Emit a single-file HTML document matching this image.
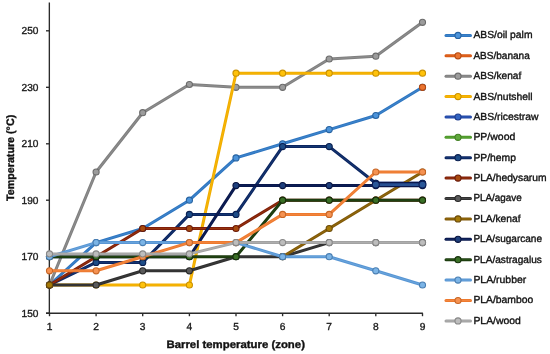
<!DOCTYPE html>
<html><head><meta charset="utf-8"><title>Barrel temperature chart</title>
<style>html,body{margin:0;padding:0;background:#fff}body{width:550px;height:354px;overflow:hidden}svg{display:block}</style></head>
<body>
<svg width="550" height="354" viewBox="0 0 550 354" text-rendering="geometricPrecision">
<rect width="550" height="354" fill="#fff"/>
<g stroke="#2b2b2b" stroke-width="1.35" fill="none">
<path d="M49.35 2.6V313.8"/>
<path d="M46 313.2H422.9"/>
<path d="M46 313.2H49.4"/>
<path d="M46 256.7H49.4"/>
<path d="M46 200.2H49.4"/>
<path d="M46 143.8H49.4"/>
<path d="M46 87.3H49.4"/>
<path d="M46 30.8H49.4"/>
<path d="M49.5 313.2V316.2"/>
<path d="M96.1 313.2V316.2"/>
<path d="M142.7 313.2V316.2"/>
<path d="M189.4 313.2V316.2"/>
<path d="M236.0 313.2V316.2"/>
<path d="M282.6 313.2V316.2"/>
<path d="M329.2 313.2V316.2"/>
<path d="M375.8 313.2V316.2"/>
<path d="M422.5 313.2V316.2"/>
</g>
<g stroke="#2f76c0" fill="#4b93da">
<path d="M49.5 285.0L96.1 242.6L142.7 228.5L189.4 200.2L236.0 157.9L282.6 143.8L329.2 129.6L375.8 115.5L422.5 87.3" fill="none" stroke-width="3.0" stroke-linejoin="round" stroke-linecap="round"/>
<path d="M49.5 285.0L96.1 242.6L142.7 228.5L189.4 200.2L236.0 157.9L282.6 143.8L329.2 129.6L375.8 115.5L422.5 87.3" fill="none" stroke="#4b93da" stroke-opacity="0.5" stroke-width="1.0" stroke-linejoin="round" stroke-linecap="round"/>
<circle cx="49.5" cy="285.0" r="3.05" stroke="#2763a1" stroke-width="1.1"/>
<circle cx="96.1" cy="242.6" r="3.05" stroke="#2763a1" stroke-width="1.1"/>
<circle cx="142.7" cy="228.5" r="3.05" stroke="#2763a1" stroke-width="1.1"/>
<circle cx="189.4" cy="200.2" r="3.05" stroke="#2763a1" stroke-width="1.1"/>
<circle cx="236.0" cy="157.9" r="3.05" stroke="#2763a1" stroke-width="1.1"/>
<circle cx="282.6" cy="143.8" r="3.05" stroke="#2763a1" stroke-width="1.1"/>
<circle cx="329.2" cy="129.6" r="3.05" stroke="#2763a1" stroke-width="1.1"/>
<circle cx="375.8" cy="115.5" r="3.05" stroke="#2763a1" stroke-width="1.1"/>
<circle cx="422.5" cy="87.3" r="3.05" stroke="#2763a1" stroke-width="1.1"/>
</g>
<g stroke="#d85712" fill="#ea7430">
<path d="M422.5 87.3" fill="none" stroke-width="3.0" stroke-linejoin="round" stroke-linecap="round"/>
<path d="M422.5 87.3" fill="none" stroke="#ea7430" stroke-opacity="0.5" stroke-width="1.0" stroke-linejoin="round" stroke-linecap="round"/>
<circle cx="422.5" cy="87.3" r="3.05" stroke="#b5490f" stroke-width="1.1"/>
</g>
<g stroke="#808080" fill="#9c9c9c">
<path d="M49.5 285.0L96.1 172.0L142.7 112.7L189.4 84.5L236.0 87.3L282.6 87.3L329.2 59.0L375.8 56.2L422.5 22.3" fill="none" stroke-width="3.0" stroke-linejoin="round" stroke-linecap="round"/>
<path d="M49.5 285.0L96.1 172.0L142.7 112.7L189.4 84.5L236.0 87.3L282.6 87.3L329.2 59.0L375.8 56.2L422.5 22.3" fill="none" stroke="#9c9c9c" stroke-opacity="0.5" stroke-width="1.0" stroke-linejoin="round" stroke-linecap="round"/>
<circle cx="49.5" cy="285.0" r="3.05" stroke="#6b6b6b" stroke-width="1.1"/>
<circle cx="96.1" cy="172.0" r="3.05" stroke="#6b6b6b" stroke-width="1.1"/>
<circle cx="142.7" cy="112.7" r="3.05" stroke="#6b6b6b" stroke-width="1.1"/>
<circle cx="189.4" cy="84.5" r="3.05" stroke="#6b6b6b" stroke-width="1.1"/>
<circle cx="236.0" cy="87.3" r="3.05" stroke="#6b6b6b" stroke-width="1.1"/>
<circle cx="282.6" cy="87.3" r="3.05" stroke="#6b6b6b" stroke-width="1.1"/>
<circle cx="329.2" cy="59.0" r="3.05" stroke="#6b6b6b" stroke-width="1.1"/>
<circle cx="375.8" cy="56.2" r="3.05" stroke="#6b6b6b" stroke-width="1.1"/>
<circle cx="422.5" cy="22.3" r="3.05" stroke="#6b6b6b" stroke-width="1.1"/>
</g>
<g stroke="#f0ac00" fill="#ffc20a">
<path d="M49.5 285.0L96.1 285.0L142.7 285.0L189.4 285.0L236.0 73.2L282.6 73.2L329.2 73.2L375.8 73.2L422.5 73.2" fill="none" stroke-width="3.0" stroke-linejoin="round" stroke-linecap="round"/>
<path d="M49.5 285.0L96.1 285.0L142.7 285.0L189.4 285.0L236.0 73.2L282.6 73.2L329.2 73.2L375.8 73.2L422.5 73.2" fill="none" stroke="#ffc20a" stroke-opacity="0.5" stroke-width="1.0" stroke-linejoin="round" stroke-linecap="round"/>
<circle cx="49.5" cy="285.0" r="3.05" stroke="#c99000" stroke-width="1.1"/>
<circle cx="96.1" cy="285.0" r="3.05" stroke="#c99000" stroke-width="1.1"/>
<circle cx="142.7" cy="285.0" r="3.05" stroke="#c99000" stroke-width="1.1"/>
<circle cx="189.4" cy="285.0" r="3.05" stroke="#c99000" stroke-width="1.1"/>
<circle cx="236.0" cy="73.2" r="3.05" stroke="#c99000" stroke-width="1.1"/>
<circle cx="282.6" cy="73.2" r="3.05" stroke="#c99000" stroke-width="1.1"/>
<circle cx="329.2" cy="73.2" r="3.05" stroke="#c99000" stroke-width="1.1"/>
<circle cx="375.8" cy="73.2" r="3.05" stroke="#c99000" stroke-width="1.1"/>
<circle cx="422.5" cy="73.2" r="3.05" stroke="#c99000" stroke-width="1.1"/>
</g>
<g stroke="#2448a8" fill="#3264c2">
<path d="M375.8 183.3L422.5 183.3" fill="none" stroke-width="3.0" stroke-linejoin="round" stroke-linecap="round"/>
<path d="M375.8 183.3L422.5 183.3" fill="none" stroke="#3264c2" stroke-opacity="0.5" stroke-width="1.0" stroke-linejoin="round" stroke-linecap="round"/>
<circle cx="375.8" cy="183.3" r="3.05" stroke="#1e3c8d" stroke-width="1.1"/>
<circle cx="422.5" cy="183.3" r="3.05" stroke="#1e3c8d" stroke-width="1.1"/>
</g>
<g stroke="#4f9a2a" fill="#60a93c">
</g>
<g stroke="#0c2560" fill="#1d4c87">
<path d="M49.5 285.0L96.1 262.4L142.7 262.4L189.4 214.4L236.0 214.4L282.6 146.6L329.2 146.6L375.8 183.3L422.5 183.3" fill="none" stroke-width="3.0" stroke-linejoin="round" stroke-linecap="round"/>
<path d="M49.5 285.0L96.1 262.4L142.7 262.4L189.4 214.4L236.0 214.4L282.6 146.6L329.2 146.6L375.8 183.3L422.5 183.3" fill="none" stroke="#1d4c87" stroke-opacity="0.5" stroke-width="1.0" stroke-linejoin="round" stroke-linecap="round"/>
<circle cx="49.5" cy="285.0" r="3.05" stroke="#0a1f50" stroke-width="1.1"/>
<circle cx="96.1" cy="262.4" r="3.05" stroke="#0a1f50" stroke-width="1.1"/>
<circle cx="142.7" cy="262.4" r="3.05" stroke="#0a1f50" stroke-width="1.1"/>
<circle cx="189.4" cy="214.4" r="3.05" stroke="#0a1f50" stroke-width="1.1"/>
<circle cx="236.0" cy="214.4" r="3.05" stroke="#0a1f50" stroke-width="1.1"/>
<circle cx="282.6" cy="146.6" r="3.05" stroke="#0a1f50" stroke-width="1.1"/>
<circle cx="329.2" cy="146.6" r="3.05" stroke="#0a1f50" stroke-width="1.1"/>
<circle cx="375.8" cy="183.3" r="3.05" stroke="#0a1f50" stroke-width="1.1"/>
<circle cx="422.5" cy="183.3" r="3.05" stroke="#0a1f50" stroke-width="1.1"/>
</g>
<g stroke="#801e0a" fill="#a84a0e">
<path d="M49.5 285.0L96.1 256.7L142.7 228.5L189.4 228.5L236.0 228.5L282.6 200.2L329.2 200.2L375.8 200.2L422.5 200.2" fill="none" stroke-width="3.0" stroke-linejoin="round" stroke-linecap="round"/>
<path d="M49.5 285.0L96.1 256.7L142.7 228.5L189.4 228.5L236.0 228.5L282.6 200.2L329.2 200.2L375.8 200.2L422.5 200.2" fill="none" stroke="#a84a0e" stroke-opacity="0.5" stroke-width="1.0" stroke-linejoin="round" stroke-linecap="round"/>
<circle cx="49.5" cy="285.0" r="3.05" stroke="#6b1908" stroke-width="1.1"/>
<circle cx="96.1" cy="256.7" r="3.05" stroke="#6b1908" stroke-width="1.1"/>
<circle cx="142.7" cy="228.5" r="3.05" stroke="#6b1908" stroke-width="1.1"/>
<circle cx="189.4" cy="228.5" r="3.05" stroke="#6b1908" stroke-width="1.1"/>
<circle cx="236.0" cy="228.5" r="3.05" stroke="#6b1908" stroke-width="1.1"/>
<circle cx="282.6" cy="200.2" r="3.05" stroke="#6b1908" stroke-width="1.1"/>
<circle cx="329.2" cy="200.2" r="3.05" stroke="#6b1908" stroke-width="1.1"/>
<circle cx="375.8" cy="200.2" r="3.05" stroke="#6b1908" stroke-width="1.1"/>
<circle cx="422.5" cy="200.2" r="3.05" stroke="#6b1908" stroke-width="1.1"/>
</g>
<g stroke="#303030" fill="#5a5a5a">
<path d="M49.5 285.0L96.1 285.0L142.7 270.8L189.4 270.8L236.0 256.7L282.6 256.7L329.2 242.6L375.8 242.6L422.5 242.6" fill="none" stroke-width="3.0" stroke-linejoin="round" stroke-linecap="round"/>
<path d="M49.5 285.0L96.1 285.0L142.7 270.8L189.4 270.8L236.0 256.7L282.6 256.7L329.2 242.6L375.8 242.6L422.5 242.6" fill="none" stroke="#5a5a5a" stroke-opacity="0.2" stroke-width="1.0" stroke-linejoin="round" stroke-linecap="round"/>
<circle cx="49.5" cy="285.0" r="3.05" stroke="#282828" stroke-width="1.1"/>
<circle cx="96.1" cy="285.0" r="3.05" stroke="#282828" stroke-width="1.1"/>
<circle cx="142.7" cy="270.8" r="3.05" stroke="#282828" stroke-width="1.1"/>
<circle cx="189.4" cy="270.8" r="3.05" stroke="#282828" stroke-width="1.1"/>
<circle cx="236.0" cy="256.7" r="3.05" stroke="#282828" stroke-width="1.1"/>
<circle cx="282.6" cy="256.7" r="3.05" stroke="#282828" stroke-width="1.1"/>
<circle cx="329.2" cy="242.6" r="3.05" stroke="#282828" stroke-width="1.1"/>
<circle cx="375.8" cy="242.6" r="3.05" stroke="#282828" stroke-width="1.1"/>
<circle cx="422.5" cy="242.6" r="3.05" stroke="#282828" stroke-width="1.1"/>
</g>
<g stroke="#80590a" fill="#a67a08">
<path d="M49.5 285.0M282.6 256.7L329.2 228.5L375.8 200.2L422.5 172.0" fill="none" stroke-width="3.0" stroke-linejoin="round" stroke-linecap="round"/>
<path d="M49.5 285.0M282.6 256.7L329.2 228.5L375.8 200.2L422.5 172.0" fill="none" stroke="#a67a08" stroke-opacity="0.5" stroke-width="1.0" stroke-linejoin="round" stroke-linecap="round"/>
<circle cx="49.5" cy="285.0" r="3.05" stroke="#6b4a08" stroke-width="1.1"/>
<circle cx="282.6" cy="256.7" r="3.05" stroke="#6b4a08" stroke-width="1.1"/>
<circle cx="329.2" cy="228.5" r="3.05" stroke="#6b4a08" stroke-width="1.1"/>
<circle cx="375.8" cy="200.2" r="3.05" stroke="#6b4a08" stroke-width="1.1"/>
<circle cx="422.5" cy="172.0" r="3.05" stroke="#6b4a08" stroke-width="1.1"/>
</g>
<g stroke="#09174c" fill="#1e3f7c">
<path d="M49.5 256.7L96.1 256.7L142.7 256.7L189.4 256.7L236.0 185.6L282.6 185.6L329.2 185.6L375.8 185.6L422.5 185.6" fill="none" stroke-width="3.0" stroke-linejoin="round" stroke-linecap="round"/>
<path d="M49.5 256.7L96.1 256.7L142.7 256.7L189.4 256.7L236.0 185.6L282.6 185.6L329.2 185.6L375.8 185.6L422.5 185.6" fill="none" stroke="#1e3f7c" stroke-opacity="0.2" stroke-width="1.0" stroke-linejoin="round" stroke-linecap="round"/>
<circle cx="49.5" cy="256.7" r="3.05" stroke="#07133f" stroke-width="1.1"/>
<circle cx="96.1" cy="256.7" r="3.05" stroke="#07133f" stroke-width="1.1"/>
<circle cx="142.7" cy="256.7" r="3.05" stroke="#07133f" stroke-width="1.1"/>
<circle cx="189.4" cy="256.7" r="3.05" stroke="#07133f" stroke-width="1.1"/>
<circle cx="236.0" cy="185.6" r="3.05" stroke="#07133f" stroke-width="1.1"/>
<circle cx="282.6" cy="185.6" r="3.05" stroke="#07133f" stroke-width="1.1"/>
<circle cx="329.2" cy="185.6" r="3.05" stroke="#07133f" stroke-width="1.1"/>
<circle cx="375.8" cy="185.6" r="3.05" stroke="#07133f" stroke-width="1.1"/>
<circle cx="422.5" cy="185.6" r="3.05" stroke="#07133f" stroke-width="1.1"/>
</g>
<path d="M375.8 184.6H422.5" stroke="#09174c" stroke-width="5.3" stroke-linecap="round"/>
<path d="M375.8 184.6H422.5" stroke="#264f92" stroke-width="2.6" stroke-linecap="round"/>
<circle cx="375.8" cy="184.6" r="3.5" fill="#2a5798" stroke="#0b1c54" stroke-width="1.1"/>
<circle cx="422.5" cy="184.6" r="3.5" fill="#2a5798" stroke="#0b1c54" stroke-width="1.1"/>
<g stroke="#1b3a0e" fill="#3a6f26">
<path d="M49.5 256.7L96.1 256.7L142.7 256.7L189.4 256.7L236.0 256.7L282.6 200.2L329.2 200.2L375.8 200.2L422.5 200.2" fill="none" stroke-width="3.0" stroke-linejoin="round" stroke-linecap="round"/>
<path d="M49.5 256.7L96.1 256.7L142.7 256.7L189.4 256.7L236.0 256.7L282.6 200.2L329.2 200.2L375.8 200.2L422.5 200.2" fill="none" stroke="#3a6f26" stroke-opacity="0.2" stroke-width="1.0" stroke-linejoin="round" stroke-linecap="round"/>
<circle cx="49.5" cy="256.7" r="3.05" stroke="#16300b" stroke-width="1.1"/>
<circle cx="96.1" cy="256.7" r="3.05" stroke="#16300b" stroke-width="1.1"/>
<circle cx="142.7" cy="256.7" r="3.05" stroke="#16300b" stroke-width="1.1"/>
<circle cx="189.4" cy="256.7" r="3.05" stroke="#16300b" stroke-width="1.1"/>
<circle cx="236.0" cy="256.7" r="3.05" stroke="#16300b" stroke-width="1.1"/>
<circle cx="282.6" cy="200.2" r="3.05" stroke="#16300b" stroke-width="1.1"/>
<circle cx="329.2" cy="200.2" r="3.05" stroke="#16300b" stroke-width="1.1"/>
<circle cx="375.8" cy="200.2" r="3.05" stroke="#16300b" stroke-width="1.1"/>
<circle cx="422.5" cy="200.2" r="3.05" stroke="#16300b" stroke-width="1.1"/>
</g>
<g stroke="#5896d4" fill="#7bb4e6">
<path d="M49.5 256.7L96.1 242.6L142.7 242.6L189.4 242.6L236.0 242.6L282.6 256.7L329.2 256.7L375.8 270.8L422.5 285.0" fill="none" stroke-width="3.0" stroke-linejoin="round" stroke-linecap="round"/>
<path d="M49.5 256.7L96.1 242.6L142.7 242.6L189.4 242.6L236.0 242.6L282.6 256.7L329.2 256.7L375.8 270.8L422.5 285.0" fill="none" stroke="#7bb4e6" stroke-opacity="0.5" stroke-width="1.0" stroke-linejoin="round" stroke-linecap="round"/>
<circle cx="49.5" cy="256.7" r="3.05" stroke="#497eb2" stroke-width="1.1"/>
<circle cx="96.1" cy="242.6" r="3.05" stroke="#497eb2" stroke-width="1.1"/>
<circle cx="142.7" cy="242.6" r="3.05" stroke="#497eb2" stroke-width="1.1"/>
<circle cx="189.4" cy="242.6" r="3.05" stroke="#497eb2" stroke-width="1.1"/>
<circle cx="236.0" cy="242.6" r="3.05" stroke="#497eb2" stroke-width="1.1"/>
<circle cx="282.6" cy="256.7" r="3.05" stroke="#497eb2" stroke-width="1.1"/>
<circle cx="329.2" cy="256.7" r="3.05" stroke="#497eb2" stroke-width="1.1"/>
<circle cx="375.8" cy="270.8" r="3.05" stroke="#497eb2" stroke-width="1.1"/>
<circle cx="422.5" cy="285.0" r="3.05" stroke="#497eb2" stroke-width="1.1"/>
</g>
<g stroke="#ee7a2e" fill="#f59252">
<path d="M49.5 270.8L96.1 270.8L142.7 256.7L189.4 242.6L236.0 242.6L282.6 214.4L329.2 214.4L375.8 172.0L422.5 172.0" fill="none" stroke-width="3.0" stroke-linejoin="round" stroke-linecap="round"/>
<path d="M49.5 270.8L96.1 270.8L142.7 256.7L189.4 242.6L236.0 242.6L282.6 214.4L329.2 214.4L375.8 172.0L422.5 172.0" fill="none" stroke="#f59252" stroke-opacity="0.5" stroke-width="1.0" stroke-linejoin="round" stroke-linecap="round"/>
<circle cx="49.5" cy="270.8" r="3.05" stroke="#c76626" stroke-width="1.1"/>
<circle cx="96.1" cy="270.8" r="3.05" stroke="#c76626" stroke-width="1.1"/>
<circle cx="142.7" cy="256.7" r="3.05" stroke="#c76626" stroke-width="1.1"/>
<circle cx="189.4" cy="242.6" r="3.05" stroke="#c76626" stroke-width="1.1"/>
<circle cx="236.0" cy="242.6" r="3.05" stroke="#c76626" stroke-width="1.1"/>
<circle cx="282.6" cy="214.4" r="3.05" stroke="#c76626" stroke-width="1.1"/>
<circle cx="329.2" cy="214.4" r="3.05" stroke="#c76626" stroke-width="1.1"/>
<circle cx="375.8" cy="172.0" r="3.05" stroke="#c76626" stroke-width="1.1"/>
<circle cx="422.5" cy="172.0" r="3.05" stroke="#c76626" stroke-width="1.1"/>
</g>
<g stroke="#a2a2a2" fill="#bdbdbd">
<path d="M49.5 253.9L96.1 253.9L142.7 253.9L189.4 253.9L236.0 242.6L282.6 242.6L329.2 242.6L375.8 242.6L422.5 242.6" fill="none" stroke-width="3.0" stroke-linejoin="round" stroke-linecap="round"/>
<path d="M49.5 253.9L96.1 253.9L142.7 253.9L189.4 253.9L236.0 242.6L282.6 242.6L329.2 242.6L375.8 242.6L422.5 242.6" fill="none" stroke="#bdbdbd" stroke-opacity="0.5" stroke-width="1.0" stroke-linejoin="round" stroke-linecap="round"/>
<circle cx="49.5" cy="253.9" r="3.05" stroke="#888888" stroke-width="1.1"/>
<circle cx="96.1" cy="253.9" r="3.05" stroke="#888888" stroke-width="1.1"/>
<circle cx="142.7" cy="253.9" r="3.05" stroke="#888888" stroke-width="1.1"/>
<circle cx="189.4" cy="253.9" r="3.05" stroke="#888888" stroke-width="1.1"/>
<circle cx="236.0" cy="242.6" r="3.05" stroke="#888888" stroke-width="1.1"/>
<circle cx="282.6" cy="242.6" r="3.05" stroke="#888888" stroke-width="1.1"/>
<circle cx="329.2" cy="242.6" r="3.05" stroke="#888888" stroke-width="1.1"/>
<circle cx="375.8" cy="242.6" r="3.05" stroke="#888888" stroke-width="1.1"/>
<circle cx="422.5" cy="242.6" r="3.05" stroke="#888888" stroke-width="1.1"/>
</g>
<g font-family="'Liberation Sans', sans-serif" font-size="10.2" fill="#1a1a1a" stroke="#1a1a1a" stroke-width="0.35">
<text x="38.5" y="316.8" text-anchor="end" textLength="16.9" lengthAdjust="spacingAndGlyphs">150</text>
<text x="38.5" y="260.3" text-anchor="end" textLength="16.9" lengthAdjust="spacingAndGlyphs">170</text>
<text x="38.5" y="203.8" text-anchor="end" textLength="16.9" lengthAdjust="spacingAndGlyphs">190</text>
<text x="38.5" y="147.4" text-anchor="end" textLength="16.9" lengthAdjust="spacingAndGlyphs">210</text>
<text x="38.5" y="90.9" text-anchor="end" textLength="16.9" lengthAdjust="spacingAndGlyphs">230</text>
<text x="38.5" y="34.4" text-anchor="end" textLength="16.9" lengthAdjust="spacingAndGlyphs">250</text>
<text x="49.5" y="329.9" text-anchor="middle">1</text>
<text x="96.1" y="329.9" text-anchor="middle">2</text>
<text x="142.7" y="329.9" text-anchor="middle">3</text>
<text x="189.4" y="329.9" text-anchor="middle">4</text>
<text x="236.0" y="329.9" text-anchor="middle">5</text>
<text x="282.6" y="329.9" text-anchor="middle">6</text>
<text x="329.2" y="329.9" text-anchor="middle">7</text>
<text x="375.8" y="329.9" text-anchor="middle">8</text>
<text x="422.5" y="329.9" text-anchor="middle">9</text>
</g>
<g font-family="'Liberation Sans', sans-serif" font-weight="bold" fill="#111" stroke="#111" stroke-width="0.35">
<text id="xt" x="235.7" y="347.8" text-anchor="middle" font-size="10.8" textLength="138.5" lengthAdjust="spacingAndGlyphs">Barrel temperature (zone)</text>
<text id="yt" transform="translate(13.5 157.9) rotate(-90)" text-anchor="middle" font-size="10.8" textLength="86.2" lengthAdjust="spacingAndGlyphs">Temperature (°C)</text>
</g>
<g font-family="'Liberation Sans', sans-serif" font-size="10.2" fill="#111" stroke="#111" stroke-width="0.35">
<path d="M446 35.4H470.5" stroke="#2f76c0" stroke-width="3.0" stroke-linecap="round"/>
<path d="M446 35.4H470.5" stroke="#4b93da" stroke-opacity="0.5" stroke-width="1.0" stroke-linecap="round"/>
<circle cx="458" cy="35.4" r="3.05" fill="#4b93da" stroke="#2763a1" stroke-width="1.1"/>
<text class="lg" x="473.4" y="38.3" textLength="59.1" lengthAdjust="spacingAndGlyphs">ABS/oil palm</text>
<path d="M446 55.8H470.5" stroke="#d85712" stroke-width="3.0" stroke-linecap="round"/>
<path d="M446 55.8H470.5" stroke="#ea7430" stroke-opacity="0.5" stroke-width="1.0" stroke-linecap="round"/>
<circle cx="458" cy="55.8" r="3.05" fill="#ea7430" stroke="#b5490f" stroke-width="1.1"/>
<text class="lg" x="473.4" y="58.7" textLength="56.4" lengthAdjust="spacingAndGlyphs">ABS/banana</text>
<path d="M446 76.2H470.5" stroke="#808080" stroke-width="3.0" stroke-linecap="round"/>
<path d="M446 76.2H470.5" stroke="#9c9c9c" stroke-opacity="0.5" stroke-width="1.0" stroke-linecap="round"/>
<circle cx="458" cy="76.2" r="3.05" fill="#9c9c9c" stroke="#6b6b6b" stroke-width="1.1"/>
<text class="lg" x="473.4" y="79.1" textLength="47.8" lengthAdjust="spacingAndGlyphs">ABS/kenaf</text>
<path d="M446 96.6H470.5" stroke="#f0ac00" stroke-width="3.0" stroke-linecap="round"/>
<path d="M446 96.6H470.5" stroke="#ffc20a" stroke-opacity="0.5" stroke-width="1.0" stroke-linecap="round"/>
<circle cx="458" cy="96.6" r="3.05" fill="#ffc20a" stroke="#c99000" stroke-width="1.1"/>
<text class="lg" x="473.4" y="99.5" textLength="59.2" lengthAdjust="spacingAndGlyphs">ABS/nutshell</text>
<path d="M446 117.0H470.5" stroke="#2448a8" stroke-width="3.0" stroke-linecap="round"/>
<path d="M446 117.0H470.5" stroke="#3264c2" stroke-opacity="0.5" stroke-width="1.0" stroke-linecap="round"/>
<circle cx="458" cy="117.0" r="3.05" fill="#3264c2" stroke="#1e3c8d" stroke-width="1.1"/>
<text class="lg" x="473.4" y="119.9" textLength="65.1" lengthAdjust="spacingAndGlyphs">ABS/ricestraw</text>
<path d="M446 137.3H470.5" stroke="#4f9a2a" stroke-width="3.0" stroke-linecap="round"/>
<path d="M446 137.3H470.5" stroke="#60a93c" stroke-opacity="0.5" stroke-width="1.0" stroke-linecap="round"/>
<circle cx="458" cy="137.3" r="3.05" fill="#60a93c" stroke="#428123" stroke-width="1.1"/>
<text class="lg" x="473.4" y="140.2" textLength="41.9" lengthAdjust="spacingAndGlyphs">PP/wood</text>
<path d="M446 157.7H470.5" stroke="#0c2560" stroke-width="3.0" stroke-linecap="round"/>
<path d="M446 157.7H470.5" stroke="#1d4c87" stroke-opacity="0.5" stroke-width="1.0" stroke-linecap="round"/>
<circle cx="458" cy="157.7" r="3.05" fill="#1d4c87" stroke="#0a1f50" stroke-width="1.1"/>
<text class="lg" x="473.4" y="160.6" textLength="42.5" lengthAdjust="spacingAndGlyphs">PP/hemp</text>
<path d="M446 178.1H470.5" stroke="#801e0a" stroke-width="3.0" stroke-linecap="round"/>
<path d="M446 178.1H470.5" stroke="#a84a0e" stroke-opacity="0.5" stroke-width="1.0" stroke-linecap="round"/>
<circle cx="458" cy="178.1" r="3.05" fill="#a84a0e" stroke="#6b1908" stroke-width="1.1"/>
<text class="lg" x="473.4" y="181.0" textLength="73.2" lengthAdjust="spacingAndGlyphs">PLA/hedysarum</text>
<path d="M446 198.5H470.5" stroke="#303030" stroke-width="3.0" stroke-linecap="round"/>
<path d="M446 198.5H470.5" stroke="#5a5a5a" stroke-opacity="0.5" stroke-width="1.0" stroke-linecap="round"/>
<circle cx="458" cy="198.5" r="3.05" fill="#5a5a5a" stroke="#282828" stroke-width="1.1"/>
<text class="lg" x="473.4" y="201.4" textLength="48.4" lengthAdjust="spacingAndGlyphs">PLA/agave</text>
<path d="M446 218.9H470.5" stroke="#80590a" stroke-width="3.0" stroke-linecap="round"/>
<path d="M446 218.9H470.5" stroke="#a67a08" stroke-opacity="0.5" stroke-width="1.0" stroke-linecap="round"/>
<circle cx="458" cy="218.9" r="3.05" fill="#a67a08" stroke="#6b4a08" stroke-width="1.1"/>
<text class="lg" x="473.4" y="221.8" textLength="47.1" lengthAdjust="spacingAndGlyphs">PLA/kenaf</text>
<path d="M446 239.3H470.5" stroke="#09174c" stroke-width="3.0" stroke-linecap="round"/>
<path d="M446 239.3H470.5" stroke="#1e3f7c" stroke-opacity="0.5" stroke-width="1.0" stroke-linecap="round"/>
<circle cx="458" cy="239.3" r="3.05" fill="#1e3f7c" stroke="#07133f" stroke-width="1.1"/>
<text class="lg" x="473.4" y="242.2" textLength="68.6" lengthAdjust="spacingAndGlyphs">PLA/sugarcane</text>
<path d="M446 259.7H470.5" stroke="#1b3a0e" stroke-width="3.0" stroke-linecap="round"/>
<path d="M446 259.7H470.5" stroke="#3a6f26" stroke-opacity="0.5" stroke-width="1.0" stroke-linecap="round"/>
<circle cx="458" cy="259.7" r="3.05" fill="#3a6f26" stroke="#16300b" stroke-width="1.1"/>
<text class="lg" x="473.4" y="262.6" textLength="68.4" lengthAdjust="spacingAndGlyphs">PLA/astragalus</text>
<path d="M446 280.1H470.5" stroke="#5896d4" stroke-width="3.0" stroke-linecap="round"/>
<path d="M446 280.1H470.5" stroke="#7bb4e6" stroke-opacity="0.5" stroke-width="1.0" stroke-linecap="round"/>
<circle cx="458" cy="280.1" r="3.05" fill="#7bb4e6" stroke="#497eb2" stroke-width="1.1"/>
<text class="lg" x="473.4" y="283.0" textLength="52.9" lengthAdjust="spacingAndGlyphs">PLA/rubber</text>
<path d="M446 300.5H470.5" stroke="#ee7a2e" stroke-width="3.0" stroke-linecap="round"/>
<path d="M446 300.5H470.5" stroke="#f59252" stroke-opacity="0.5" stroke-width="1.0" stroke-linecap="round"/>
<circle cx="458" cy="300.5" r="3.05" fill="#f59252" stroke="#c76626" stroke-width="1.1"/>
<text class="lg" x="473.4" y="303.4" textLength="59.9" lengthAdjust="spacingAndGlyphs">PLA/bamboo</text>
<path d="M446 320.9H470.5" stroke="#a2a2a2" stroke-width="3.0" stroke-linecap="round"/>
<path d="M446 320.9H470.5" stroke="#bdbdbd" stroke-opacity="0.5" stroke-width="1.0" stroke-linecap="round"/>
<circle cx="458" cy="320.9" r="3.05" fill="#bdbdbd" stroke="#888888" stroke-width="1.1"/>
<text class="lg" x="473.4" y="323.8" textLength="47.5" lengthAdjust="spacingAndGlyphs">PLA/wood</text>
</g>
</svg>
</body></html>
